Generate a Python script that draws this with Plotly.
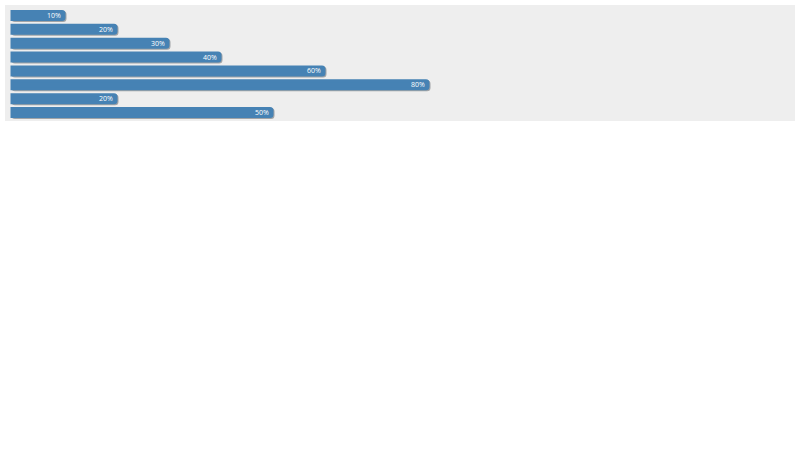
import plotly.graph_objs as go

# bar values in percent, top to bottom
rows = ["r1", "r2", "r3", "r4", "r5", "r6", "r7", "r8"]
values = [10, 20, 30, 40, 60, 80, 20, 50]
labels = ["10%", "20%", "30%", "40%", "60%", "80%", "20%", "50%"]

px_per_unit = 5.2
row_px = 13.86
edge = 3  # outline width, makes the bars a bit longer like the original
bar_w = 8 / row_px
pos = list(range(len(rows)))

# soft shadow, 1px right and 1px down
shadow = go.Bar(
    x=values,
    y=pos,
    base=1 / px_per_unit,
    width=bar_w,
    offset=-bar_w / 2 + 1 / row_px,
    orientation='h',
    marker=dict(
        color='#6e7378',
        line=dict(color='#6e7378', width=edge),
    ),
    opacity=0.6,
    hoverinfo='skip',
    showlegend=False,
)

data = go.Bar(
    x=values,
    y=pos,
    width=bar_w,
    orientation='h',
    text=labels,
    textposition='inside',
    insidetextanchor='end',
    constraintext='none',
    textangle=0,
    textfont=dict(color='white', size=7, family='Open Sans'),
    marker=dict(
        color='#4682b4',
        line=dict(color='#4682b4', width=edge),
    ),
    hoverinfo='skip',
    showlegend=False,
)

# zero sits 7px inside the grey panel
x0 = -7 / px_per_unit
x1 = x0 + 790 / px_per_unit

layout = go.Layout(
    width=800,
    height=450,
    margin=dict(l=5, r=5, t=5, b=329),
    paper_bgcolor='white',
    plot_bgcolor='#eeeeee',
    barmode='overlay',
    barcornerradius=2,
    xaxis=dict(range=[x0, x1], visible=False, fixedrange=True),
    yaxis=dict(range=[7.613, -0.758], visible=False, fixedrange=True),
)

fig = go.Figure(data=[shadow, data], layout=layout)
fig.write_html("out.html", config={'displayModeBar': False},
               post_script="document.body.style.margin='0px';")
